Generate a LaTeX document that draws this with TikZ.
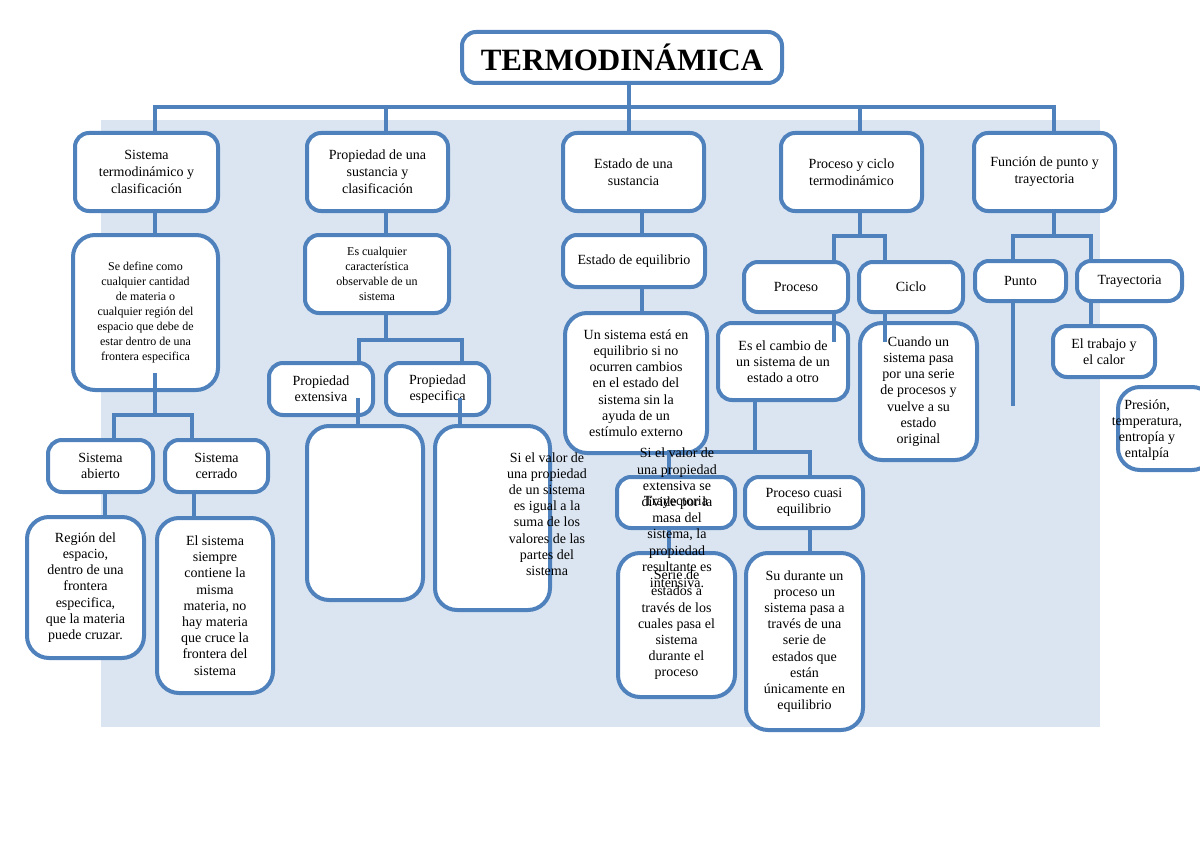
\documentclass[tikz,border=0pt]{standalone}
\usepackage{fontspec}
\setmainfont{Liberation Serif}
\usetikzlibrary{calc}
\definecolor{azul}{HTML}{4F81BD}
\definecolor{fondo}{HTML}{DBE5F1}
\tikzset{main base/.style={draw=azul,line width=4pt,fill=white,text centered,align=center,inner sep=2pt}, }
\tikzset{main node/.style={rectangle,rounded corners=14pt,main base}, }
\tikzset{main node2/.style={main node,rounded corners=22pt}, }
\tikzset{taglia/.style 2 args={minimum width=#1pt,minimum height=#2pt}, }
\tikzset{testo/.style={font=\fontsize{14}{16.2}\selectfont}, }
\tikzset{testo2/.style={font=\fontsize{14}{17}\selectfont}, }
\tikzset{testo3/.style={font=\fontsize{12}{15}\selectfont}, }
\tikzset{linea/.style={draw=azul,line width=4pt,line cap=rect}}
\tikzset{nota/.style={align=center,inner sep=0pt,testo}, }

\begin{document}
\begin{tikzpicture}[x=1pt,y=-1pt,testo]
  \useasboundingbox (0,0) rectangle (1200,848);
  \fill[fondo] (101,120) rectangle (1100,727);
  %
  \node[main node,taglia={320}{51},font=\fontsize{31}{36}\selectfont\bfseries] (1) at (622,57.5) {TERMODINÁMICA};
  \node[main node,testo2,taglia={143}{78}] (2) at (146.5,172) {Sistema\\termodinámico y\\clasificación};
  \node[main node,testo2,taglia={141}{78}] (3) at (377.5,172) {Propiedad de una\\sustancia y\\clasificación};
  \node[main node,testo2,taglia={141}{78}] (4) at (633.5,172) {Estado de una\\sustancia};
  \node[main node,testo2,taglia={141}{78}] (5) at (851.5,172) {Proceso y ciclo\\termodinámico};
  \node[main node,testo2,taglia={141}{78}] (6) at (1044.5,172) {Función de punto y\\trayectoria};
  %
  \node[main node2,testo3,taglia={145}{155}] (7) at (145.5,312.5) {Se define como\\cualquier cantidad\\de materia o\\cualquier región del\\espacio que debe de\\estar dentro de una\\frontera especifica};
  \node[main node,testo3,taglia={144}{78}] (8) at (377,274) {Es cualquier\\característica\\observable de un\\sistema};
  \node[main node,taglia={142}{52}] (9) at (634,261) {Estado de equilibrio};
  \node[main node2,taglia={142}{140}] (10) at (636,383) {Un sistema está en\\equilibrio si no\\ocurren cambios\\en el estado del\\sistema sin la\\ayuda de un\\estímulo externo};
  %
  \node[main node,taglia={105}{52}] (11) at (100.5,466) {Sistema\\abierto};
  \node[main node,taglia={103}{52}] (12) at (216.5,466) {Sistema\\cerrado};
  \node[main node2,taglia={117}{141}] (13) at (85.5,587.5) {Región del\\espacio,\\dentro de una\\frontera\\especifica,\\que la materia\\puede cruzar.};
  \node[main node2,taglia={116}{175}] (14) at (215,605.5) {El sistema\\siempre\\contiene la\\misma\\materia, no\\hay materia\\que cruce la\\frontera del\\sistema};
  %
  \node[main node,taglia={104}{52}] (15) at (321,389) {Propiedad\\extensiva};
  \node[main node,taglia={103}{52}] (16) at (437.5,389) {Propiedad\\especifica};
  \node[main node2,taglia={116}{174}] (17) at (365,513) {};
  \node[main node2,taglia={115}{184}] (18) at (492.5,518) {};
  %
  \node[main node,taglia={104}{50}] (19) at (796,287) {Proceso};
  \node[main node,taglia={104}{50}] (20) at (911,287) {Ciclo};
  \node[main node,taglia={130}{77}] (21) at (783,361.5) {Es el cambio de\\un sistema de un\\estado a otro};
  \node[main node2,taglia={117}{137}] (22) at (918.5,391.5) {Cuando un\\sistema pasa\\por una serie\\de procesos y\\vuelve a su\\estado\\original};
  \node[main node,taglia={118}{51}] (23) at (676,502.5) {Trayectoria};
  \node[main node,taglia={118}{51}] (24) at (804,502.5) {Proceso cuasi\\equilibrio};
  \node[main node2,taglia={117}{144}] (25) at (676.5,625) {Serie de\\estados a\\través de los\\cuales pasa el\\sistema\\durante el\\proceso};
  \node[main node2,taglia={117}{177}] (26) at (804.5,641.5) {Su durante un\\proceso un\\sistema pasa a\\través de una\\serie de\\estados que\\están\\únicamente en\\equilibrio};
  %
  \node[main node,taglia={91}{40}] (27) at (1020.5,281) {Punto};
  \node[main node,taglia={105}{40}] (28) at (1129.5,281) {Trayectoria};
  \node[main node,taglia={102}{51}] (29) at (1104,351.5) {El trabajo y\\el calor};
  \node[main node2,taglia={96}{83}] (30) at (1166,428.5) {};
  %
  \coordinate (r1) at (155,107);
  \coordinate (r2) at (386,107);
  \coordinate (r3) at (629,107);
  \coordinate (r4) at (860,107);
  \coordinate (r5) at (1054,107);
  \coordinate (a0) at (155,415); \coordinate (a1) at (114,415); \coordinate (a2) at (192,415);
  \coordinate (b0) at (386,340); \coordinate (b1) at (359,340); \coordinate (b2) at (462,340);
  \coordinate (d0) at (860,236); \coordinate (d1) at (834,236); \coordinate (d2) at (885,236);
  \coordinate (g0) at (755,452); \coordinate (g1) at (669,452); \coordinate (g2) at (810,452);
  \coordinate (h0) at (1054,236); \coordinate (h1) at (1013,236); \coordinate (h2) at (1091,236);
  \coordinate (q1) at (642,0); \coordinate (q2) at (105,0); \coordinate (q3) at (194,0);
  \coordinate (m0) at (155,375); \coordinate (m1) at (358,400); \coordinate (m2) at (460,400);
  \coordinate (m3) at (834,340); \coordinate (m4) at (885,340); \coordinate (m5) at (1013,404);
  %
  \foreach \x/\y in {r1/r5,a1/a2,b1/b2,d1/d2,g1/g2,h1/h2}
    \path[linea] (\x) -- (\y);
  \foreach \x/\y in {1/r3,5/d0,6/h0,8/b0,21/g0}
    \path[linea] (\y |- \x.south) -- (\y);
  \path[linea] (m0) -- (a0);
  \foreach \x/\y in {r1/2,r2/3,r3/4,r4/5,r5/6,a1/11,a2/12,b1/15,b2/16,d1/19,d2/20,g1/23,g2/24,h1/27,h2/28}
    \path[linea] (\x) -- (\x |- \y.north);
  \foreach \x/\y/\k in {2/7/r1,3/8/r2,4/9/q1,9/10/q1,11/13/q2,12/14/q3,23/25/g1,24/26/g2,28/29/h2}
    \path[linea] (\k |- \x.south) -- (\k |- \y.north);
  \foreach \x/\y in {m1/17,m2/18}
    \path[linea] (\x) -- (\x |- \y.north);
  \foreach \x/\y in {19/m3,20/m4,27/m5}
    \path[linea] (\y |- \x.south) -- (\y);
  %
  \node[nota] (31) at (547,514) {Si el valor de\\una propiedad\\de un sistema\\es igual a la\\suma de los\\valores de las\\partes del\\sistema};
  \node[nota] (32) at (677,518) {Si el valor de\\una propiedad\\extensiva se\\divide por la\\masa del\\sistema, la\\propiedad\\resultante es\\intensiva.};
  \node[nota] (33) at (1147,430) {Presión,\\temperatura,\\entropía y\\entalpía};
\end{tikzpicture}
\end{document}
